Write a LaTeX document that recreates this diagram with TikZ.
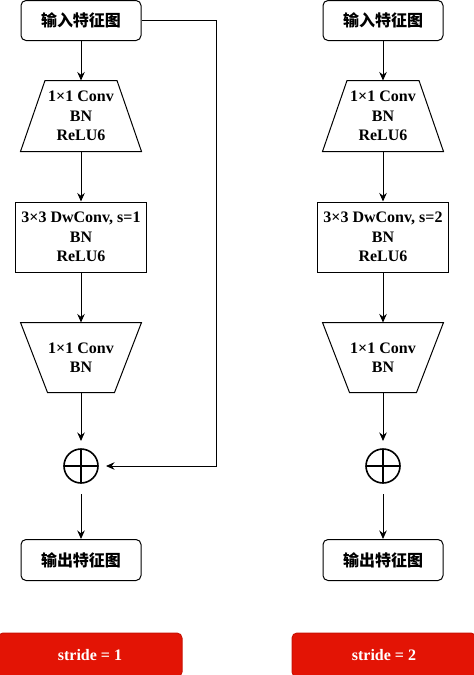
\documentclass[tikz,border=0pt]{standalone}
\usepackage{fontspec}
\setmainfont{Liberation Serif}
\newfontfamily\cjkfont{Noto Sans CJK SC}
\usetikzlibrary{arrows.meta}

\definecolor{stridered}{RGB}{227,20,5}

\begin{document}
\begin{tikzpicture}[x=1pt,y=-1pt,line width=1pt,>={Stealth[length=8.5pt,width=7.5pt]},
	every node/.style={font=\fontsize{16}{19.5}\selectfont\bfseries,align=center,inner sep=0pt},
	mapbox/.style={shape=rectangle,rounded corners=5pt,draw=black,minimum width=120pt,minimum height=40pt,font=\cjkfont\fontsize{16}{19}\selectfont\bfseries},
	upconv/.style={shape=rectangle,minimum width=120pt,minimum height=70pt,
		append after command={\pgfextra{\draw[line join=miter] ([xshift=24.5pt]\tikzlastnode.north west) -- ([xshift=-24.5pt]\tikzlastnode.north east) -- (\tikzlastnode.south east) -- (\tikzlastnode.south west) -- cycle;}}},
	downconv/.style={shape=rectangle,minimum width=120pt,minimum height=69pt,
		append after command={\pgfextra{\draw[line join=miter] (\tikzlastnode.north west) -- (\tikzlastnode.north east) -- ([xshift=-27pt]\tikzlastnode.south east) -- ([xshift=27pt]\tikzlastnode.south west) -- cycle;}}},
	dwbox/.style={shape=rectangle,draw=black,minimum width=131pt,minimum height=70pt},
	addop/.style={shape=circle,draw=black,line width=1.6pt,minimum size=34pt,outer sep=8pt,
		path picture={\draw[line width=1.6pt] (path picture bounding box.north) -- (path picture bounding box.south) (path picture bounding box.west) -- (path picture bounding box.east);}},
	stridebox/.style={shape=rectangle,rounded corners=5pt,draw=stridered!88!black,fill=stridered,text=white,minimum width=184pt,minimum height=44pt}]
	
	\useasboundingbox (0,0) rectangle (474,675);
	
	\node[mapbox] (in1) at (81,20.5) {输入特征图};
	\node[upconv] (conv1a) at (81,116) {1×1 Conv\\BN\\ReLU6};
	\node[dwbox] (dw1) at (81,237) {3×3 DwConv, s=1\\BN\\ReLU6};
	\node[downconv] (conv1b) at (81,357.5) {1×1 Conv\\BN};
	\node[addop] (add1) at (81,466) {};
	\node[mapbox,minimum height=41pt] (out1) at (81,560) {输出特征图};
	\node[stridebox] (stride1) at (90,655) {stride = 1};
	\coordinate (skip) at (216,466);
	
	\node[mapbox] (in2) at (383,20.5) {输入特征图};
	\node[upconv] (conv2a) at (383,116) {1×1 Conv\\BN\\ReLU6};
	\node[dwbox] (dw2) at (383,237) {3×3 DwConv, s=2\\BN\\ReLU6};
	\node[downconv] (conv2b) at (383,357.5) {1×1 Conv\\BN};
	\node[addop] (add2) at (383,466) {};
	\node[mapbox,minimum height=41pt] (out2) at (383,560) {输出特征图};
	\node[stridebox] (stride2) at (384,655) {stride = 2};
	
	\path[->] (in1) edge (conv1a);
	\path[->] (conv1a) edge (dw1);
	\path[->] (dw1) edge (conv1b);
	\path[->] (conv1b) edge (add1);
	\path[->] (add1) edge[shorten <=3pt] (out1);
	\draw[->] (in1.east) -| (skip) -- (add1.east);
	
	\path[->] (in2) edge (conv2a);
	\path[->] (conv2a) edge (dw2);
	\path[->] (dw2) edge (conv2b);
	\path[->] (conv2b) edge (add2);
	\path[->] (add2) edge[shorten <=3pt] (out2);
	
\end{tikzpicture}
\end{document}
